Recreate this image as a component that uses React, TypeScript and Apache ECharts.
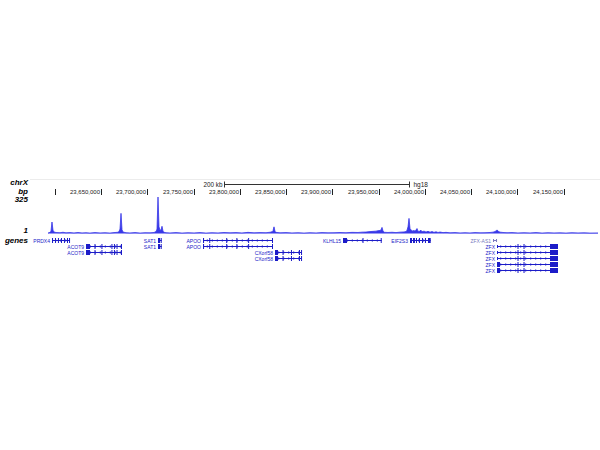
import React, { useEffect, useRef } from "react";
import * as echarts from "echarts";

// ---- genomic window (chrX, hg18) ----
const X_MIN = 23592760;
const X_MAX = 24187090;

// ---- ruler ----
const rulerTicks = [23600000, 23650000, 23700000, 23750000, 23800000, 23850000, 23900000, 23950000, 24000000, 24050000, 24100000, 24150000];
const rulerLabels = ["", "23,650,000", "23,700,000", "23,750,000", "23,800,000", "23,850,000", "23,900,000", "23,950,000", "24,000,000", "24,050,000", "24,100,000", "24,150,000"];
const scaleBar = [23783000, 23983000];
const scaleBarLabel = "200 kb";
const assemblyLabel = "hg18";

// ---- signal track (range 1..325) ----
const signalMin = 1;
const signalMax = 325;
const signal: [number, number][] = [
  [23592760, 6], [23593840, 8], [23594920, 12], [23596000, 22], [23597080, 103], [23598160, 30], [23599240, 14],
  [23601400, 10], [23605730, 8], [23608970, 12], [23612210, 7], [23616530, 9], [23620850, 6], [23625180, 10],
  [23629500, 6], [23633820, 8], [23638150, 5], [23643550, 9], [23648950, 6], [23654350, 8], [23659760, 5],
  [23664080, 9], [23668400, 12], [23669480, 18], [23670560, 40], [23671650, 180], [23672730, 35], [23673810, 14],
  [23677060, 8], [23681370, 6], [23686780, 9], [23692180, 5], [23697580, 8], [23702980, 7], [23707310, 10],
  [23709470, 18], [23710550, 40], [23711630, 325], [23712710, 60], [23713790, 30], [23714870, 32], [23715950, 65],
  [23717030, 22], [23718120, 12], [23720280, 8], [23724600, 6], [23731080, 9], [23737570, 5], [23744050, 8],
  [23750540, 6], [23757020, 9], [23763500, 5], [23769990, 8], [23776470, 6], [23782950, 10], [23789440, 7],
  [23795920, 9], [23802400, 6], [23808890, 11], [23815370, 7], [23821850, 9], [23828340, 8], [23832660, 12],
  [23834820, 16], [23835900, 26], [23836980, 60], [23838060, 20], [23839140, 11], [23843460, 7], [23849950, 9],
  [23856430, 6], [23862920, 8], [23869400, 5], [23875880, 8], [23882370, 6], [23888850, 9], [23895330, 7],
  [23901820, 8], [23908300, 10], [23914780, 8], [23921270, 11], [23927750, 10], [23932070, 13], [23936400, 14],
  [23940720, 18], [23943960, 20], [23947200, 22], [23949360, 26], [23951520, 28], [23952600, 32], [23953690, 55],
  [23954770, 24], [23955850, 12], [23960170, 10], [23964500, 12], [23968820, 9], [23973140, 13], [23977460, 15],
  [23979620, 18], [23980700, 30], [23981780, 60], [23982870, 135], [23983950, 45], [23985030, 32], [23986110, 26],
  [23987190, 22], [23988280, 30], [23989350, 20], [23990430, 32], [23991510, 45], [23992590, 22], [23993670, 18],
  [23995830, 30], [23996910, 16], [23999080, 22], [24001240, 14], [24003400, 20], [24005560, 13], [24007720, 18],
  [24009880, 11], [24012050, 16], [24014210, 10], [24016370, 14], [24019610, 9], [24022850, 11], [24027170, 7],
  [24032580, 9], [24037980, 6], [24043380, 8], [24048780, 6], [24054190, 9], [24059590, 7], [24064990, 8],
  [24070400, 10], [24073640, 13], [24075800, 18], [24076880, 24], [24077960, 33], [24079040, 22], [24081200, 13],
  [24084440, 10], [24088770, 8], [24094170, 9], [24100650, 6], [24107130, 8], [24113620, 6], [24120100, 9],
  [24126590, 5], [24133070, 8], [24139550, 6], [24146040, 7], [24152520, 5], [24159010, 8], [24165490, 6],
  [24171980, 7], [24178450, 5], [24187090, 6],
];

// ---- gene track: [name, row, start, end, strand, exons [start, end, coding], kind] ----
type Exon = [number, number, number];
type Gene = [string, number, number, number, string, Exon[], string];

const prdx4Exons: Exon[] = [[23597080, 23598200, 1], [23600300, 23601300, 1], [23603500, 23604500, 1], [23606800, 23607800, 1], [23610000, 23611000, 1], [23613300, 23614300, 1], [23615500, 23616530, 1]];
const acot9Exons: Exon[] = [[23633820, 23638150, 1], [23643000, 23644100, 1], [23650500, 23651600, 1], [23661300, 23662400, 1], [23664000, 23665100, 1], [23666800, 23667900, 1], [23671600, 23672730, 1]];
const sat1Exons: Exon[] = [[23711630, 23713800, 1], [23714500, 23715630, 1]];
const apooExons: Exon[] = [[23760250, 23761400, 1], [23767000, 23768000, 1], [23785300, 23786400, 1], [23796300, 23797400, 1], [23809000, 23810100, 1], [23834800, 23835900, 1]];
const cxorf58Exons: Exon[] = [[23838060, 23841300, 1], [23846200, 23847300, 1], [23855300, 23856400, 1], [23863900, 23865100, 1], [23866200, 23867240, 1]];
const klhl15Exons: Exon[] = [[23911540, 23915860, 1], [23932600, 23933700, 1], [23952300, 23953360, 1]];
const eif2s3Exons: Exon[] = [[23983950, 23986100, 1], [23987200, 23989300, 1], [23990400, 23991500, 1], [23993600, 23994750, 1], [23996900, 23998000, 1], [24000100, 24001240, 1], [24003400, 24006320, 1]];
const zfxAs1Exons: Exon[] = [[24073640, 24074700, 0], [24076900, 24077960, 0]];
const zfxExonsA: Exon[] = [[24077960, 24079000, 0], [24100100, 24101200, 1], [24106600, 24107700, 1], [24135200, 24143880, 1]];
const zfxExonsB: Exon[] = [[24077960, 24081200, 1], [24100100, 24101200, 1], [24106600, 24107700, 1], [24135200, 24143880, 1]];

const genes: Gene[] = [
  ["PRDX4", 0, 23597080, 23616530, "+", prdx4Exons, "coding"],
  ["ACOT9", 1, 23633820, 23672730, "-", acot9Exons, "coding"],
  ["ACOT9", 2, 23633820, 23672730, "-", acot9Exons, "coding"],
  ["SAT1", 0, 23711630, 23715630, "+", sat1Exons, "coding"],
  ["SAT1", 1, 23711630, 23715630, "+", sat1Exons, "coding"],
  ["APOO", 0, 23760250, 23835900, "-", apooExons, "coding"],
  ["APOO", 1, 23760250, 23835900, "-", apooExons, "coding"],
  ["CXorf58", 2, 23838060, 23867240, "+", cxorf58Exons, "coding"],
  ["CXorf58", 3, 23838060, 23867240, "+", cxorf58Exons, "coding"],
  ["KLHL15", 0, 23911540, 23953360, "-", klhl15Exons, "coding"],
  ["EIF2S3", 0, 23983950, 24006320, "+", eif2s3Exons, "coding"],
  ["ZFX-AS1", 0, 24073640, 24077960, "-", zfxAs1Exons, "noncoding"],
  ["ZFX", 1, 24077960, 24143880, "+", zfxExonsA, "coding"],
  ["ZFX", 2, 24077960, 24143880, "+", zfxExonsA, "coding"],
  ["ZFX", 3, 24077960, 24143880, "+", zfxExonsA, "coding"],
  ["ZFX", 4, 24077960, 24143880, "+", zfxExonsB, "coding"],
  ["ZFX", 5, 24077960, 24143880, "+", zfxExonsB, "coding"],
];

const SIGNAL_COLOR = "#3838e8";
const GENE_COLOR = "#1c1cc8";
const NC_COLOR = "#7a7ac0";
const TEXT_FONT = '"Liberation Sans", Arial, sans-serif';

export default function App() {
  const ref = useRef<HTMLDivElement>(null);

  useEffect(() => {
    if (!ref.current) return;
    const chart = echarts.init(ref.current, null, { renderer: "svg" });

    const gridLeft = 48;
    const gridWidth = 550;

    const leftLabel = (text: string, y: number) => ({
      type: "text",
      right: 600 - 28,
      top: y - 4,
      style: {
        text,
        fill: "#000",
        font: `italic bold 8px ${TEXT_FONT}`,
        lineHeight: 8,
        textAlign: "right",
      },
    });

    const option: any = {
      animation: false,
      backgroundColor: "#ffffff",
      grid: [
        { left: gridLeft, width: gridWidth, top: 197, height: 36.5 },
        { left: gridLeft, width: gridWidth, top: 237.5, height: 36 },
        { left: gridLeft, width: gridWidth, top: 175, height: 25 },
      ],
      xAxis: [0, 1, 2].map((i) => ({ type: "value", gridIndex: i, min: X_MIN, max: X_MAX, show: false })),
      yAxis: [
        { type: "value", gridIndex: 0, min: signalMin, max: signalMax, show: false },
        { type: "value", gridIndex: 1, min: -0.5, max: 5.5, inverse: true, show: false },
        { type: "value", gridIndex: 2, min: 0, max: 1, show: false },
      ],
      graphic: [
        {
          type: "line",
          shape: { x1: 30, y1: 179.5, x2: 600, y2: 179.5 },
          style: { stroke: "#ececec", lineWidth: 1 },
        },
        leftLabel("chrX", 182.5),
        leftLabel("bp", 191),
        leftLabel(String(signalMax), 199.5),
        leftLabel(String(signalMin), 230.5),
        leftLabel("genes", 240.5),
      ],
      series: [
        {
          type: "line",
          xAxisIndex: 0,
          yAxisIndex: 0,
          data: signal,
          symbol: "none",
          lineStyle: { width: 0.8, color: SIGNAL_COLOR },
          areaStyle: { color: SIGNAL_COLOR, opacity: 1, origin: "start" },
          silent: true,
        },
        {
          type: "custom",
          xAxisIndex: 1,
          yAxisIndex: 1,
          data: genes.map((g, i) => [g[2], g[3], g[1], i]),
          encode: { x: [0, 1], y: 2 },
          silent: true,
          renderItem: (params: any, api: any) => {
            const g = genes[api.value(3)];
            const [name, row, start, end, strand, exons, kind] = g;
            const color = kind === "noncoding" ? NC_COLOR : GENE_COLOR;
            const p0 = api.coord([start, row]);
            const p1 = api.coord([end, row]);
            const y = p0[1];
            const children: any[] = [];
            children.push({
              type: "line",
              shape: { x1: p0[0], y1: y, x2: p1[0], y2: y },
              style: { stroke: color, lineWidth: 1 },
            });
            const d = strand === "+" ? 0.8 : -0.8;
            for (let x = p0[0] + 4; x < p1[0] - 2; x += 5) {
              children.push({
                type: "polyline",
                shape: { points: [[x - d, y - 1.2], [x + d, y], [x - d, y + 1.2]] },
                style: { stroke: color, fill: null, lineWidth: 0.7, opacity: 0.8 },
              });
            }
            exons.forEach(([s, e, coding]) => {
              const a = api.coord([s, row])[0];
              const b = api.coord([e, row])[0];
              const h = coding ? 5 : 3;
              children.push({
                type: "rect",
                shape: { x: a, y: y - h / 2, width: Math.max(1, b - a), height: h },
                style: { fill: color },
              });
            });
            children.push({
              type: "text",
              style: {
                text: name,
                x: p0[0] - 2,
                y: y,
                align: "right",
                verticalAlign: "middle",
                fill: color,
                font: `5px ${TEXT_FONT}`,
              },
            });
            return { type: "group", children };
          },
        },
        {
          type: "custom",
          xAxisIndex: 2,
          yAxisIndex: 2,
          data: rulerTicks.map((v, i) => [v, 0, i]),
          encode: { x: 0, y: 1 },
          silent: true,
          renderItem: (params: any, api: any) => {
            const v = api.value(0);
            const i = api.value(2);
            const px = Math.round(api.coord([v, 0])[0]) + 0.5;
            return {
              type: "group",
              children: [
                {
                  type: "line",
                  shape: { x1: px, y1: 189, x2: px, y2: 195 },
                  style: { stroke: "#222", lineWidth: 1 },
                },
                {
                  type: "text",
                  style: {
                    text: rulerLabels[i],
                    x: px - 1.5,
                    y: 192,
                    align: "right",
                    verticalAlign: "middle",
                    fill: "#222",
                    font: `6px ${TEXT_FONT}`,
                  },
                },
              ],
            };
          },
        },
        {
          type: "custom",
          xAxisIndex: 2,
          yAxisIndex: 2,
          data: [[scaleBar[0], scaleBar[1], 0]],
          encode: { x: [0, 1], y: 2 },
          silent: true,
          renderItem: (params: any, api: any) => {
            const a = Math.round(api.coord([api.value(0), 0])[0]) + 0.5;
            const b = Math.round(api.coord([api.value(1), 0])[0]) + 0.5;
            const y = 184.5;
            return {
              type: "group",
              children: [
                { type: "line", shape: { x1: a, y1: y, x2: b, y2: y }, style: { stroke: "#333", lineWidth: 1 } },
                { type: "line", shape: { x1: a, y1: y - 3, x2: a, y2: y + 3 }, style: { stroke: "#333", lineWidth: 1 } },
                { type: "line", shape: { x1: b, y1: y - 3, x2: b, y2: y + 3 }, style: { stroke: "#333", lineWidth: 1 } },
                {
                  type: "text",
                  style: { text: scaleBarLabel, x: a - 2, y, align: "right", verticalAlign: "middle", fill: "#222", font: `6.3px ${TEXT_FONT}` },
                },
                {
                  type: "text",
                  style: { text: assemblyLabel, x: b + 4, y, align: "left", verticalAlign: "middle", fill: "#222", font: `6.5px ${TEXT_FONT}` },
                },
              ],
            };
          },
        },
      ],
    };

    chart.setOption(option);
    return () => chart.dispose();
  }, []);

  return (
    <div
      ref={ref}
      style={{ position: "absolute", left: 0, top: 0, width: 600, height: 450, background: "#fff" }}
    />
  );
}
